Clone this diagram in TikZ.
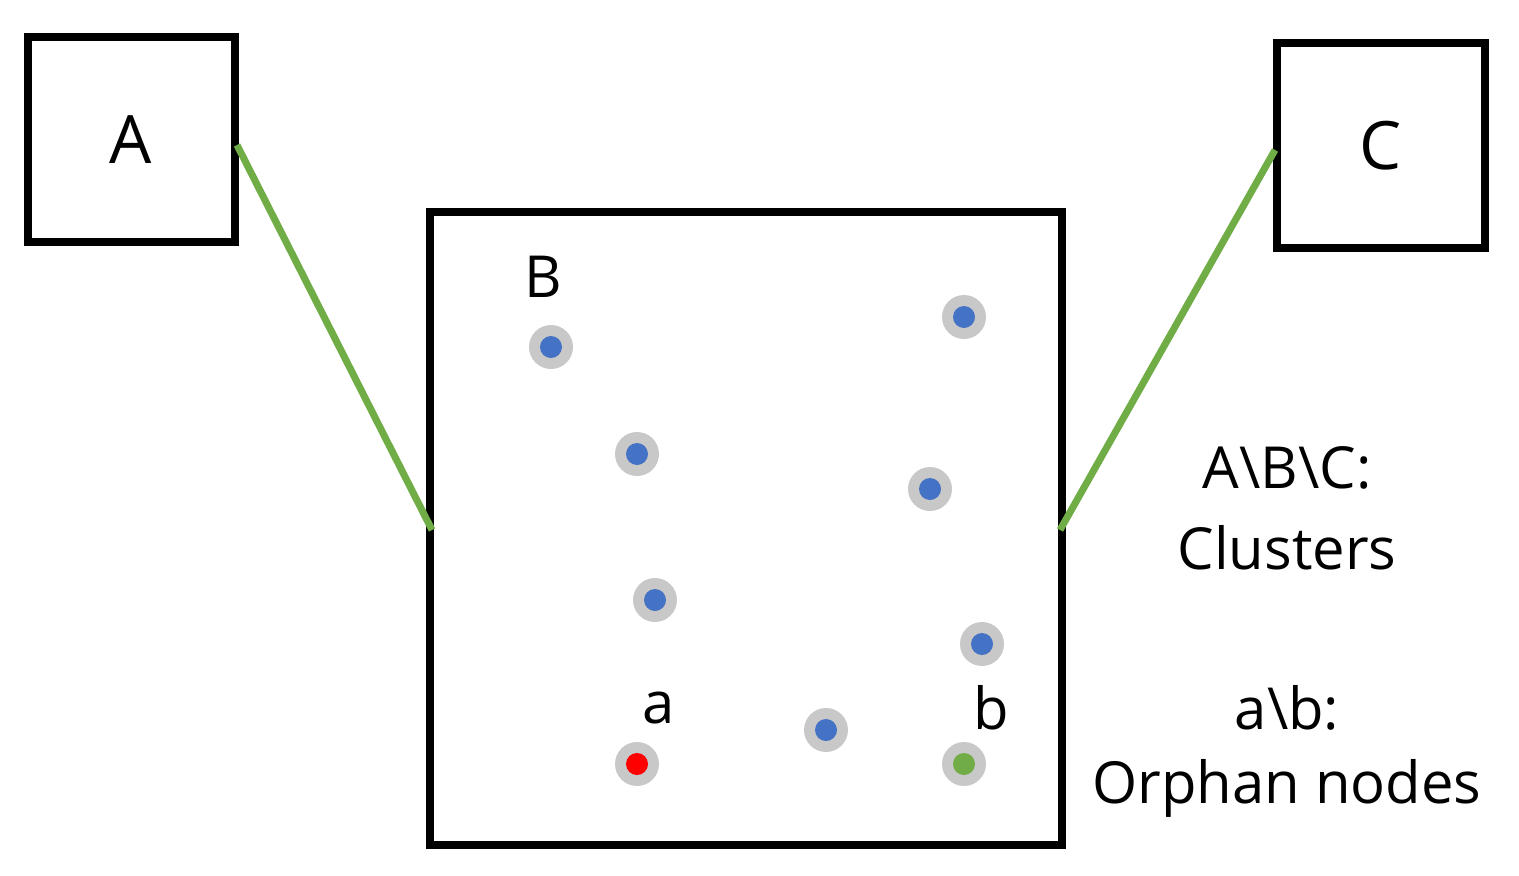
\documentclass[tikz,border=0pt]{standalone}
\usepackage{fontspec}
\setmainfont{Open Sans}
\definecolor{lgreen}{HTML}{70AD47}
\definecolor{dblue}{HTML}{4472C4}
\definecolor{ring}{HTML}{C8C8C8}
\begin{document}
\begin{tikzpicture}[x=0.02cm,y=-0.02cm,
  box/.style={draw,line width=4.2pt},
  link/.style={lgreen,line width=4pt},
  lbl/.style={font=\fontsize{33}{38}\selectfont},
  big/.style={font=\fontsize{38}{42}\selectfont}]
\useasboundingbox (0,0) rectangle (1519,876);
\draw[box] (28,37) rectangle (235,242);
\draw[box] (1277,43) rectangle (1485,248);
\draw[box] (430,212) rectangle (1062,845);
\node[big] (A) at (131,140) {A};
\node[big] (C) at (1381,146) {C};
\coordinate (Ar) at (237,145);
\coordinate (Bl) at (432,530);
\coordinate (Br) at (1060,530);
\coordinate (Cl) at (1275,150);
\draw[link] (Ar) -- (Bl);
\draw[link] (Br) -- (Cl);
\foreach \x/\y/\c/\n in {551/347/dblue/d1,637/454/dblue/d2,655/600/dblue/d3,826/730/dblue/d4,964/317/dblue/d5,930/489/dblue/d6,982/644/dblue/d7,637/764/red/da,964/764/lgreen/db}{
  \fill[ring] (\x,\y) circle (22);
  \fill[\c] (\x,\y) circle (11);
  \coordinate (\n) at (\x,\y);
}
\node[lbl] (Bt) at (543,277) {B};
\node[lbl] (at) at (659,708) {a};
\node[lbl] (bt) at (991,708) {b};
\node[lbl] (t1) at (1287,468) {A\textbackslash B\textbackslash C:};
\node[lbl] (t2) at (1287,548) {Clusters};
\node[lbl] (t3) at (1287,708) {a\textbackslash b:};
\node[lbl] (t4) at (1287,788) {Orphan nodes};
\end{tikzpicture}
\end{document}
